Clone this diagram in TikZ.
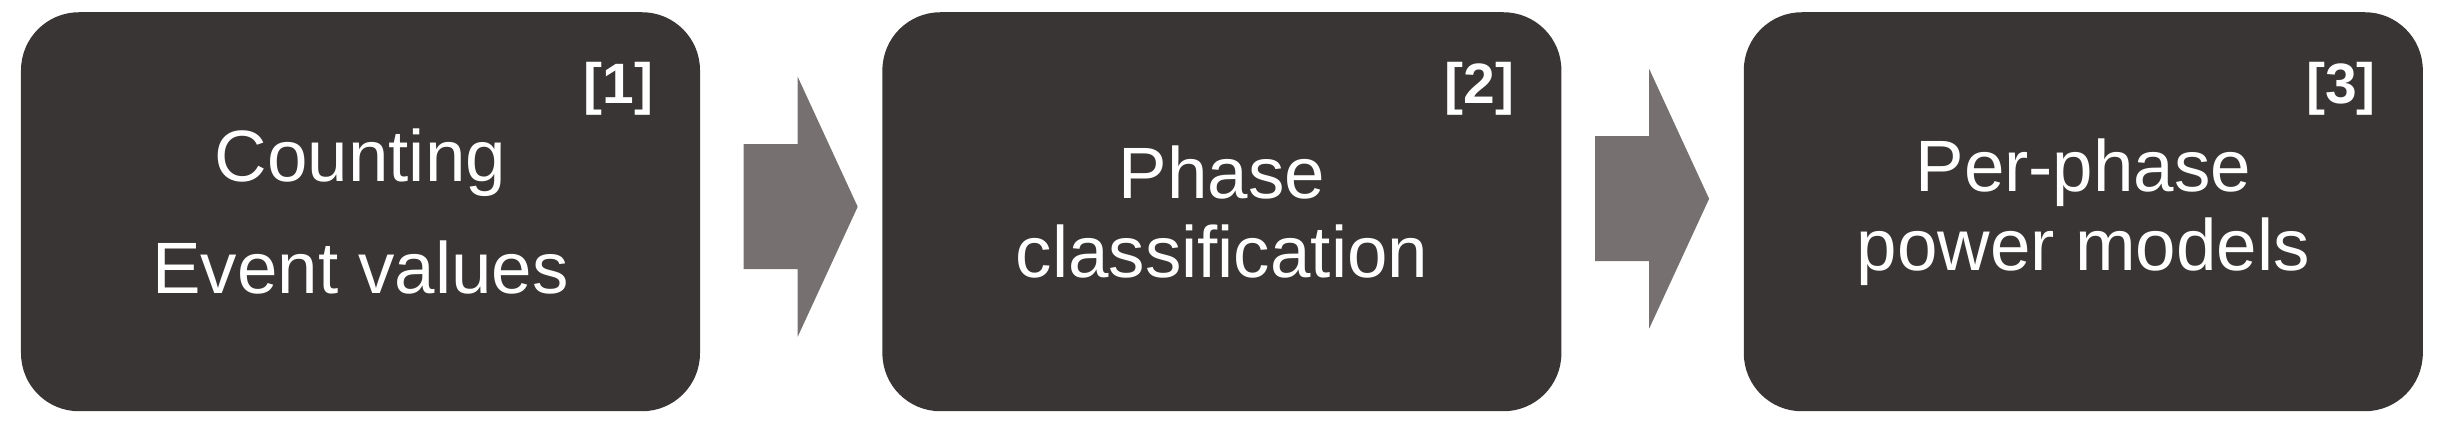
\documentclass[tikz,border=0pt]{standalone}
\usepackage{fontspec}
\setmainfont{Liberation Sans}
\usetikzlibrary{positioning}
\definecolor{boxgray}{RGB}{57,53,52}
\definecolor{arrowgray}{RGB}{118,112,112}
\tikzset{
    stage/.style={fill=boxgray, rounded corners=0.58cm, minimum width=6.79cm,
        minimum height=3.99cm, inner sep=0pt, text=white, align=center,
        font=\fontsize{20.7}{22.5}\selectfont},
    stagenum/.style={text=white, inner sep=0pt, anchor=base east,
        font=\bfseries\fontsize{16.2}{18}\selectfont},
    flow/.style={fill=arrowgray}
}
\begin{document}
\begin{tikzpicture}
        \useasboundingbox (0, 0) rectangle (24.41, 4.33);
        \node[stage] (count) at (3.605, 2.2125) {Counting\\[9.4pt]Event values};
        \node[stage, right=1.81cm of count] (phase) {Phase\\classification};
        \node[stage, right=1.81cm of phase] (model) {Per-phase\\power models};
        \node[stagenum] (n1) at ([shift={(-0.47, -0.92)}]count.north east) {[1]};
        \node[stagenum] (n2) at ([shift={(-0.47, -0.92)}]phase.north east) {[2]};
        \node[stagenum] (n3) at ([shift={(-0.47, -0.92)}]model.north east) {[3]};
        \foreach \a/\dx/\dy in {count/0.43/0.05, phase/0.33/0.13} {
            \fill[flow] ([shift={(\dx, \dy)}]\a.east) ++(0, 0.625) -- ++(0.54, 0)
                -- ++(0, 0.675) -- ++(0.6, -1.3) -- ++(-0.6, -1.3) -- ++(0, 0.675)
                -- ++(-0.54, 0) -- cycle;
        }
    \end{tikzpicture}
\end{document}
